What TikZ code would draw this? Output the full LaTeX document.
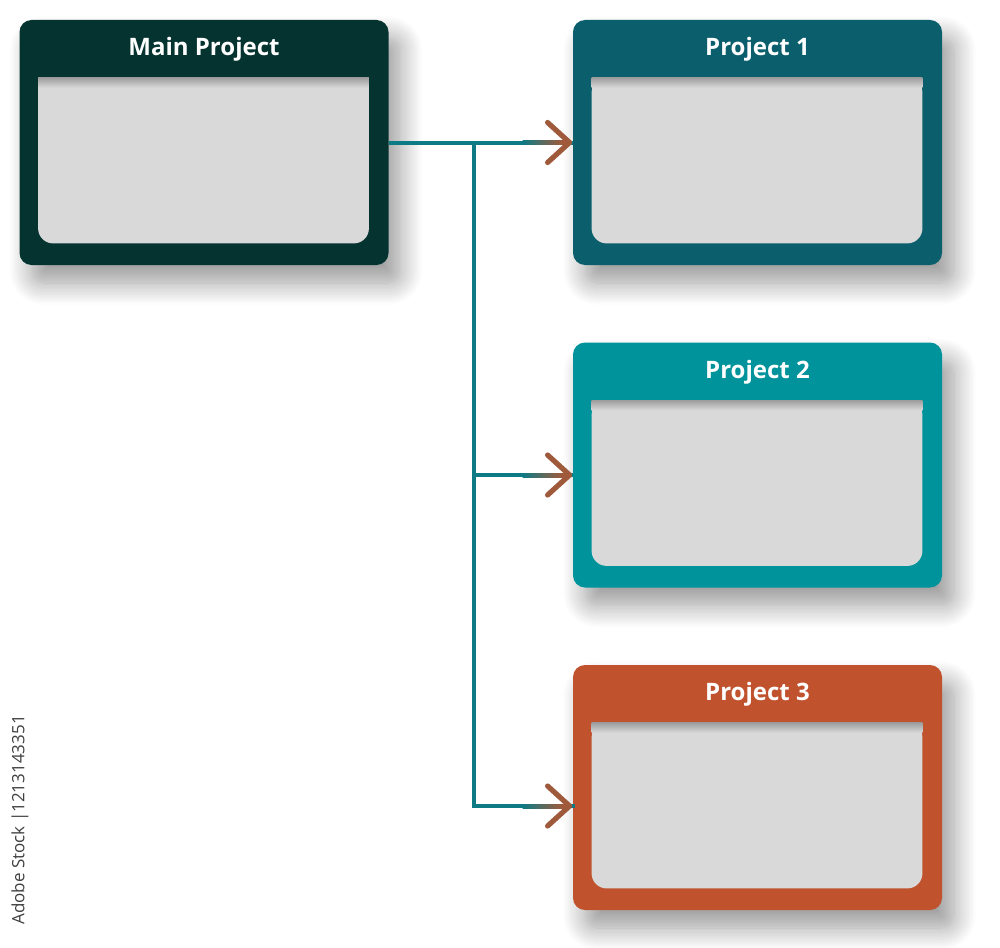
\documentclass[tikz,border=0pt]{standalone}
\usepackage{fontspec}
\setmainfont{Open Sans}
\usetikzlibrary{calc,shadows.blur}
\definecolor{cmain}{HTML}{053330}
\definecolor{cpa}{HTML}{0B5F6C}
\definecolor{cpb}{HTML}{00939B}
\definecolor{cpc}{HTML}{C0522E}
\definecolor{cpanel}{HTML}{D9D9D9}
\definecolor{cline}{HTML}{0E7A84}
\definecolor{carrow}{HTML}{9E5A3B}
\definecolor{cgradend}{HTML}{B9552F}
\tikzset{
  x=0.5pt, y=-0.5pt,
  card/.style={rounded corners=6pt, minimum width=184.5pt, minimum height=122.5pt,
    inner sep=0pt, draw=none,
    blur shadow={shadow xshift=6pt, shadow yshift=-9pt, shadow blur steps=16,
      shadow blur radius=11pt, shadow opacity=40}},
  ttl/.style={text=white, font=\bfseries\fontsize{12}{14}\selectfont, inner sep=0pt},
  conn/.style={draw=cline, line width=2pt},
  chev/.style={draw=carrow, line width=2.6pt, line cap=round, line join=round},
  wmark/.style={text=black!75, font=\fontsize{8.5}{10}\selectfont, inner sep=0pt}
}
\newcommand\mycard[4]{%
  \node[card, fill=#3] (#1) at (#2) {};
  \fill[cpanel, rounded corners=7.5pt] ($(#1.north west)+(19,58)$) rectangle ($(#1.south east)+(-20,-22)$);
  \fill[cpanel] ($(#1.north west)+(19,58)$) rectangle ($(#1.north east)+(-20,90)$);
  \shade[top color=black!28!cpanel, bottom color=cpanel] ($(#1.north west)+(19,58)$) rectangle ($(#1.north east)+(-20,68)$);
  \node[ttl] (#1-t) at ($(#1.north)+(0,30)$) {#4};
}
\newcommand\myarrow[1]{%
  \shade[left color=cline, right color=cgradend] ($(#1)+(-50,-2)$) rectangle ($(#1)+(-4,2)$);
  \draw[chev] ($(#1)+(-25,-20)$) -- ($(#1)+(-3,0)$) -- ($(#1)+(-25,20)$);
}
\begin{document}
\begin{tikzpicture}
\useasboundingbox (0,0) rectangle (1000,947);
\mycard{main}{204,142.5}{cmain}{Main Project}
\mycard{pa}{757.5,142.5}{cpa}{Project 1}
\mycard{pb}{757.5,465}{cpb}{Project 2}
\mycard{pc}{757.5,787.5}{cpc}{Project 3}
\coordinate (j) at (474,142.5);
\coordinate (ina) at (pa.west);
\coordinate (inb) at ($(pb.west)+(0,10)$);
\coordinate (inc) at ($(pc.west)+(0,18.5)$);
\draw[conn] (main.east) -- (j) -- (ina);
\draw[conn, line cap=rect] (j) |- (inc);
\draw[conn] (j |- inb) -- (inb);
\myarrow{ina}
\myarrow{inb}
\myarrow{inc}
\node[wmark, rotate=90] (wm) at (20,820) {Adobe Stock |1213143351};
\end{tikzpicture}
\end{document}
